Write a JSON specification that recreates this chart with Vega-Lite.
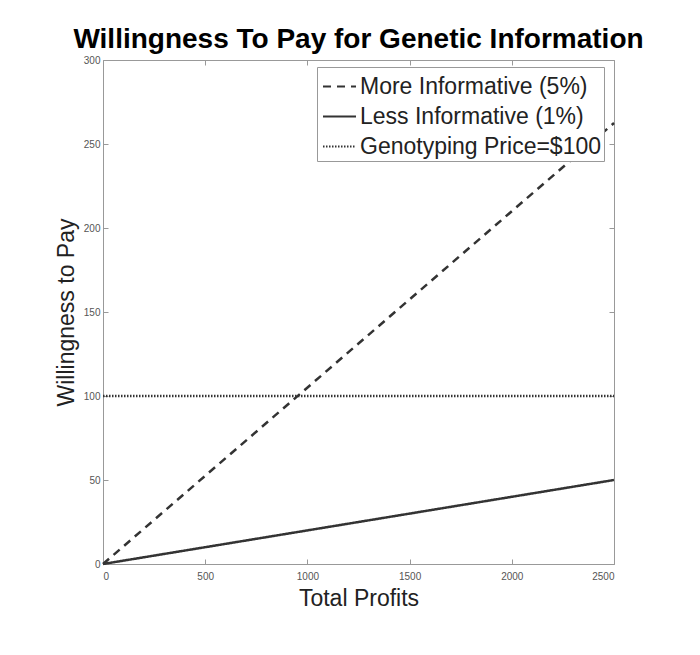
{
  "$schema": "https://vega.github.io/schema/vega-lite/v6.json",
  "width": 511,
  "height": 504,
  "autosize": "none",
  "padding": {"left": 103, "top": 60, "right": 86, "bottom": 91},
  "background": "white",
  "title": {
    "text": "Willingness To Pay for Genetic Information",
    "font": "Liberation Sans",
    "fontSize": 28,
    "fontWeight": "bold",
    "color": "black",
    "anchor": "middle",
    "offset": 1
  },
  "config": {
    "view": {"stroke": "#999", "strokeWidth": 1},
    "axis": {
      "grid": false,
      "domain": false,
      "tickSize": -5,
      "tickColor": "#999",
      "labelFont": "Liberation Sans",
      "labelFontSize": 10,
      "labelColor": "#555",
      "titleFont": "Liberation Sans",
      "titleFontSize": 23,
      "titleFontWeight": "normal",
      "titleColor": "#222"
    }
  },
  "data": {
    "values": [
      {"series": "More Informative (5%)", "profit": 0, "wtp": 0},
      {"series": "More Informative (5%)", "profit": 2500, "wtp": 262.5},
      {"series": "Less Informative (1%)", "profit": 0, "wtp": 0},
      {"series": "Less Informative (1%)", "profit": 2500, "wtp": 50},
      {"series": "Genotyping Price=$100", "profit": 0, "wtp": 100},
      {"series": "Genotyping Price=$100", "profit": 2500, "wtp": 100}
    ]
  },
  "layer": [
    {
      "mark": {"type": "line", "color": "#333", "strokeWidth": 2.5},
      "encoding": {
        "x": {
          "field": "profit",
          "type": "quantitative",
          "title": "Total Profits",
          "scale": {"domain": [0, 2500], "nice": false},
          "axis": {"values": [0, 500, 1000, 1500, 2000, 2500], "format": "d", "labelPadding": 12, "titlePadding": 6}
        },
        "y": {
          "field": "wtp",
          "type": "quantitative",
          "title": "Willingness to Pay",
          "scale": {"domain": [0, 300], "nice": false},
          "axis": {"values": [0, 50, 100, 150, 200, 250, 300], "labelPadding": 8, "titlePadding": 5}
        },
        "strokeDash": {
          "field": "series",
          "type": "nominal",
          "title": null,
          "scale": {
            "domain": ["More Informative (5%)", "Less Informative (1%)", "Genotyping Price=$100"],
            "range": [[8, 6], [1, 0], [1.5, 1.5]]
          },
          "legend": {
            "orient": "none",
            "legendX": 214,
            "legendY": 7,
            "symbolType": "stroke",
            "symbolSize": 1089,
            "symbolStrokeWidth": 2,
            "symbolStrokeColor": "#333",
            "symbolOffset": 3,
            "labelOffset": 3,
            "labelFont": "Liberation Sans",
            "labelFontSize": 23,
            "labelColor": "#222",
            "labelLimit": 400,
            "rowPadding": -7,
            "strokeColor": "#999",
            "fillColor": "white",
            "padding": 2
          }
        }
      }
    },
    {
      "mark": {"type": "point", "opacity": 0},
      "encoding": {
        "x": {
          "field": "profit",
          "type": "quantitative",
          "axis": {"orient": "top", "values": [0, 500, 1000, 1500, 2000, 2500], "labels": false, "title": null}
        },
        "y": {
          "field": "wtp",
          "type": "quantitative",
          "axis": {"orient": "right", "values": [0, 50, 100, 150, 200, 250, 300], "labels": false, "title": null}
        }
      }
    }
  ],
  "resolve": {"axis": {"x": "independent", "y": "independent"}}
}
